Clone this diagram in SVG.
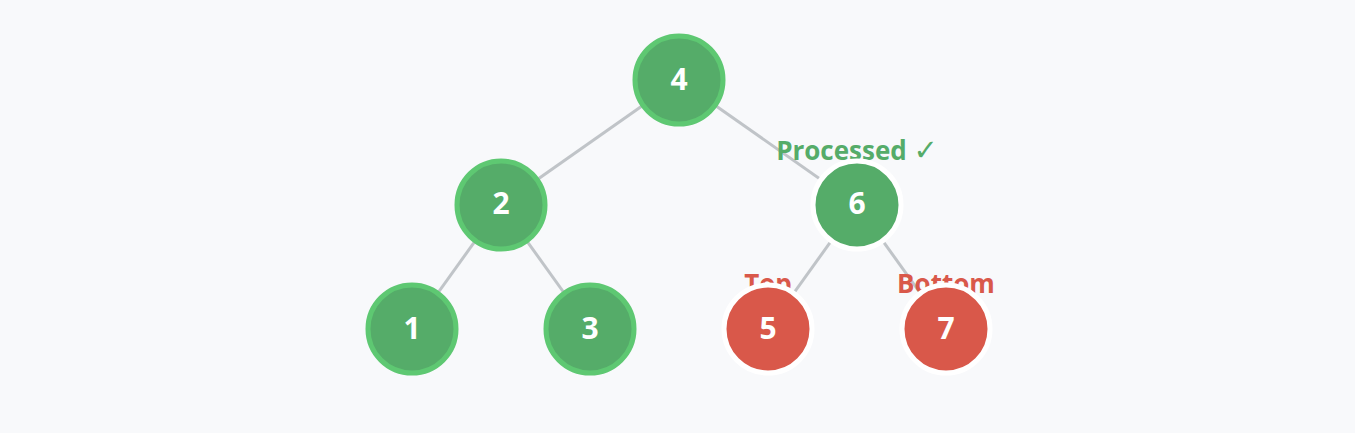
<svg xmlns="http://www.w3.org/2000/svg" width="1355" height="433" viewBox="0 0 1355 433">
<style>
.edge{stroke:#c0c4c8;stroke-width:3;fill:none}
.done{fill:#55ac69;stroke:#5ec872;stroke-width:5}
.cur{fill:#55ac69;stroke:#ffffff;stroke-width:5}
.red{fill:#d9584a;stroke:#ffffff;stroke-width:5}
.num{font-family:"Open Sans",sans-serif;font-weight:bold;font-size:30px;fill:#ffffff;text-anchor:middle;dominant-baseline:central}
.lbl{font-family:"Open Sans",sans-serif;font-weight:bold;font-size:26px;text-anchor:middle}
.chk{font-family:"DejaVu Sans",sans-serif;font-weight:normal;font-size:29px}
</style>
<rect width="1355" height="433" fill="#f8f9fb"/>
<g id="connectors">
<line class="edge" x1="679" y1="80" x2="501" y2="205"/>
<line class="edge" x1="679" y1="80" x2="857" y2="205"/>
<line class="edge" x1="501" y1="205" x2="412" y2="329"/>
<line class="edge" x1="501" y1="205" x2="590" y2="329"/>
<line class="edge" x1="857" y1="205" x2="768" y2="329"/>
<line class="edge" x1="857" y1="205" x2="946" y2="329"/>
</g>
<g id="node-4"><circle class="done" cx="679" cy="80" r="44"/><text class="num" x="679" y="78">4</text></g>
<g id="node-2"><circle class="done" cx="501" cy="205" r="44"/><text class="num" x="501" y="202">2</text></g>
<g id="node-1"><circle class="done" cx="412" cy="329" r="44"/><text class="num" x="412" y="327">1</text></g>
<g id="node-3"><circle class="done" cx="590" cy="329" r="44"/><text class="num" x="590" y="327">3</text></g>
<g id="node-6"><text class="lbl" x="857" y="160" fill="#55ac69">Processed <tspan class="chk">✓</tspan></text><circle class="cur" cx="857" cy="205" r="44"/><text class="num" x="857" y="202">6</text></g>
<g id="node-5"><text class="lbl" x="768" y="293" fill="#d9584a">Top</text><circle class="red" cx="768" cy="329" r="44"/><text class="num" x="768" y="327">5</text></g>
<g id="node-7"><text class="lbl" x="946" y="293" fill="#d9584a">Bottom</text><circle class="red" cx="946" cy="329" r="44"/><text class="num" x="946" y="327">7</text></g>
</svg>
